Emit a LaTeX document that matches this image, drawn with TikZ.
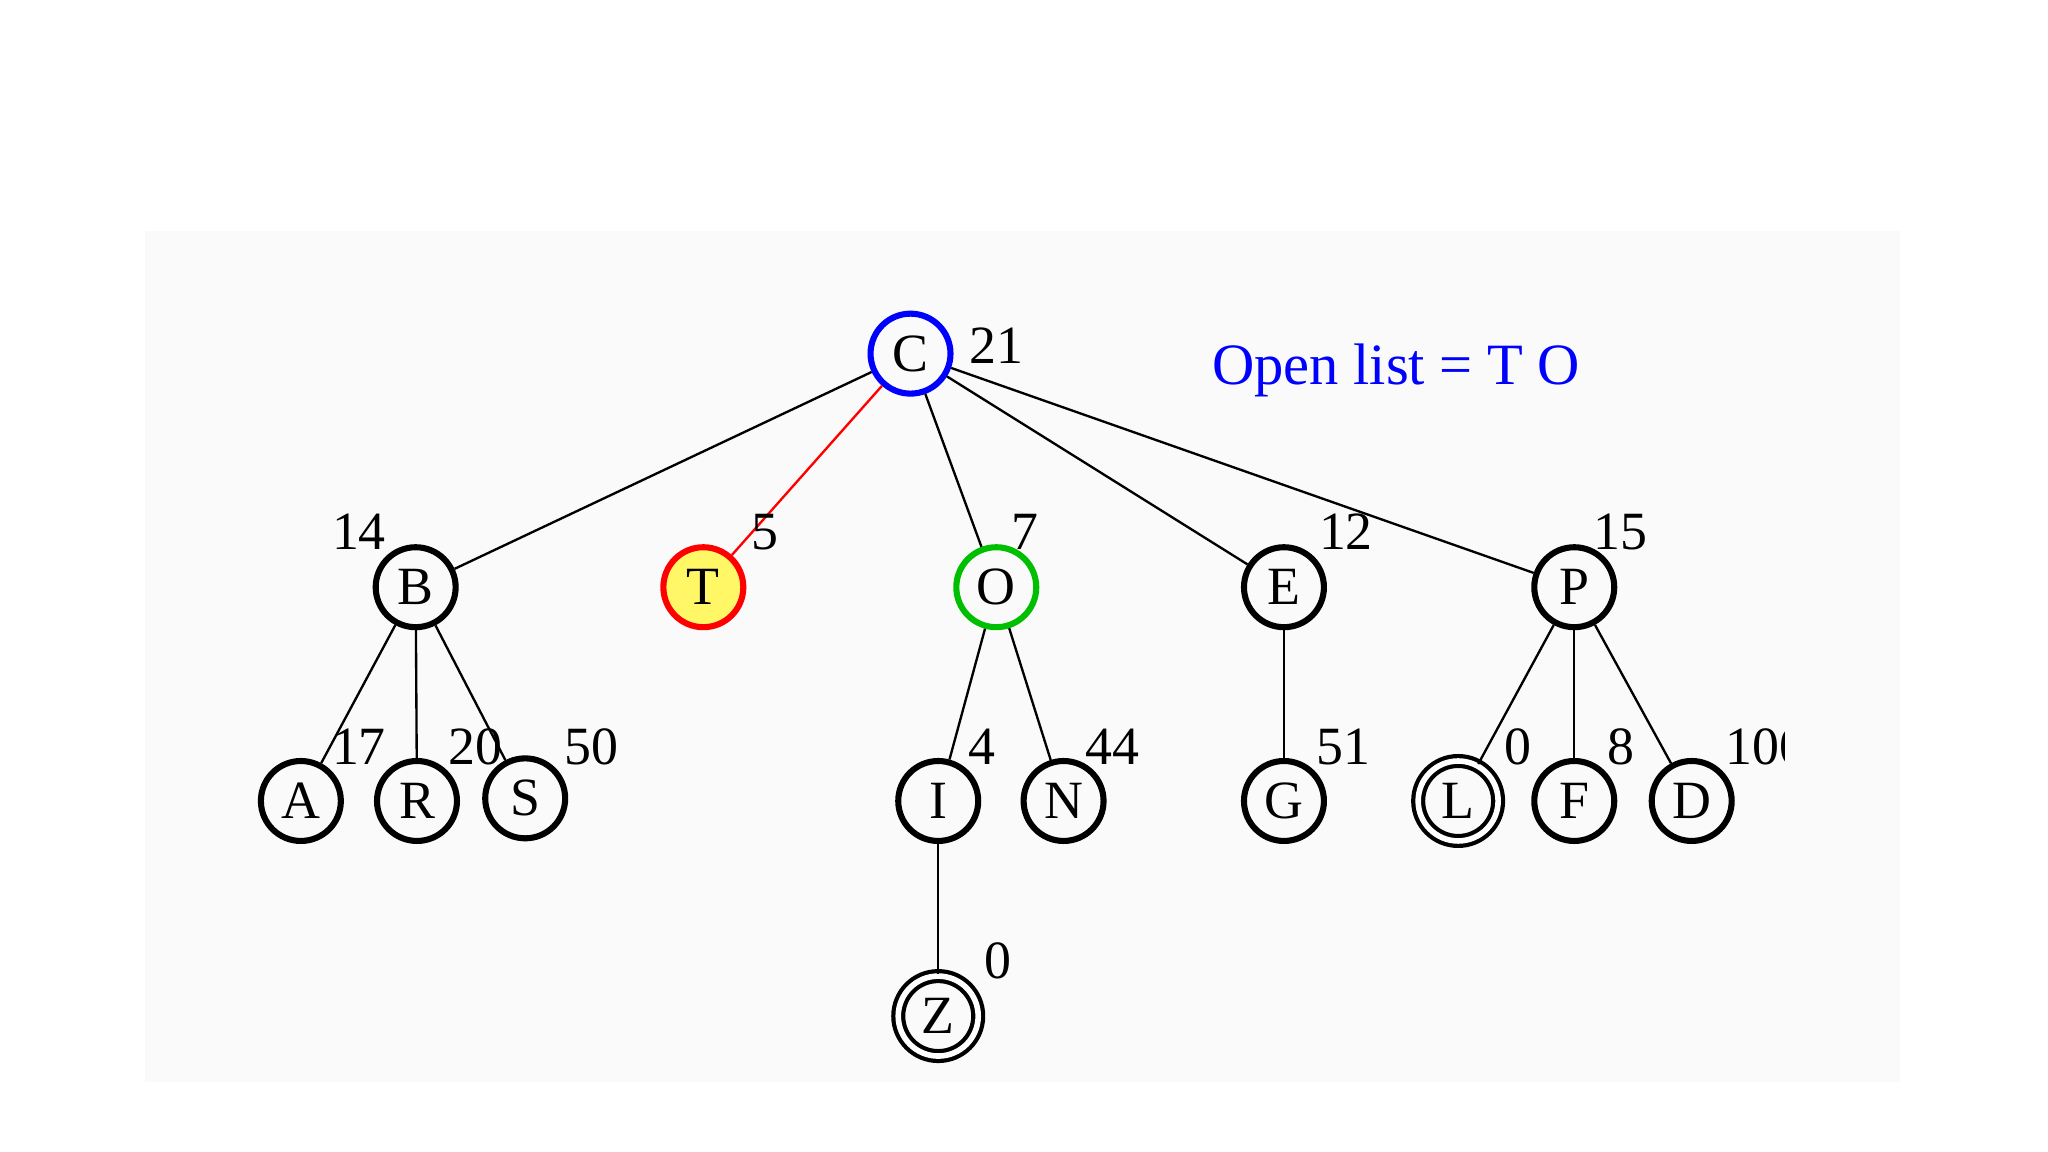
\documentclass[tikz,border=0pt]{standalone}
\usepackage{fontspec}
\setmainfont{Liberation Serif}
\begin{document}
\begin{tikzpicture}[x=0.0099cm,y=-0.0099cm,
  nd/.style={circle,draw,line width=1.3pt,minimum size=0.6cm,inner sep=0pt,font=\fontsize{11.5}{14}\selectfont},
  dbl/.style={nd,double,double distance=1.2pt,line width=0.9pt},
  num/.style={font=\fontsize{11.5}{14}\selectfont},
  ed/.style={line width=0.5pt}]
\useasboundingbox (0,0) rectangle (1552,873);
\fill[black!2] (110,175) rectangle (1440,820);
\node[nd,draw=blue] (C) at (690,268) {C};
\node[nd] (B) at (315,445) {B};
\node[nd,draw=red,fill=yellow!60] (T) at (533,445) {T};
\node[nd,draw=green!75!black] (O) at (755,445) {O};
\node[nd] (E) at (973,445) {E};
\node[nd] (P) at (1193,445) {P};
\node[nd] (A) at (228,607) {A};
\node[nd] (R) at (316,607) {R};
\node[nd] (S) at (398,605) {S};
\node[nd] (I) at (711,607) {I};
\node[nd] (N) at (806,607) {N};
\node[nd] (G) at (973,607) {G};
\node[dbl] (L) at (1105,607) {L};
\node[nd] (F) at (1193,607) {F};
\node[nd] (D) at (1282,607) {D};
\node[dbl] (Z) at (711,770) {Z};
\draw[ed,red] (C) -- (T);
\foreach \a/\b in {C/B,C/O,C/E,C/P,B/A,B/R,B/S,O/I,O/N,E/G,P/L,P/F,P/D,I/Z}
  \draw[ed] (\a) -- (\b);
\node[num] (n1) at (755,262) {21};
\node[num] (n2) at (272,403) {14};
\node[num] (n3) at (580,403) {5};
\node[num] (n4) at (777,403) {7};
\node[num] (n5) at (1020,403) {12};
\node[num] (n6) at (1228,403) {15};
\node[num] (n7) at (272,566) {17};
\node[num] (n8) at (360,566) {20};
\node[num] (n9) at (448,566) {50};
\node[num] (n10) at (744,566) {4};
\node[num] (n11) at (843,566) {44};
\node[num] (n12) at (1018,566) {51};
\node[num] (n13) at (1150,566) {0};
\node[num] (n14) at (1228,566) {8};
\begin{scope}
\clip (1280,540) rectangle (1352,590);
\node[num,anchor=west] (n15) at (1295,566) {100};
\end{scope}
\node[num] (n16) at (756,728) {0};
\node[font=\fontsize{12.5}{15}\selectfont,text=blue] (ol) at (1058,281) {Open list = T O};
\end{tikzpicture}
\end{document}
